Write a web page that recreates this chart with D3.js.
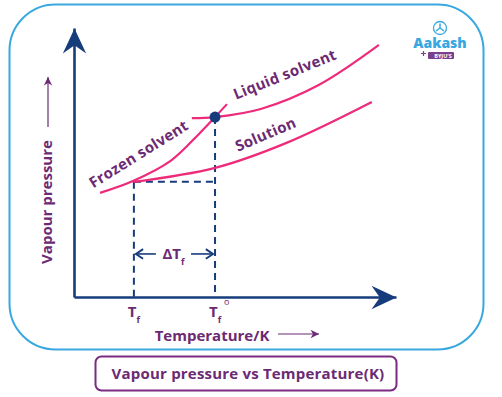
<!DOCTYPE html>
<html>
<head>
<meta charset="utf-8">
<script src="https://cdn.jsdelivr.net/npm/d3@7"></script>
<style>
  body { margin: 0; background: #fff; }
  svg text { font-family: "Open Sans", sans-serif; font-weight: 700; }
</style>
</head>
<body>
<div class="chart"></div>
<script>
// freezing points (temperature units, 0-100)
var Tf = 18.6, Tf0 = 43.8;
// vapour pressure level at freezing point of solution / solvent
var pTf = 42.8, pTf0 = 66.9;

// curves: [temperature, vapour pressure]
var frozenSolvent = [[8.1, 38.7], [18.3, 43.1], [30.0, 50.6], [39.1, 61.0], [43.8, 66.9], [47.5, 71.7]];
var liquidSolvent = [[36.6, 66.5], [43.8, 66.9], [58.0, 69.9], [76.0, 78.8], [94.7, 93.7]];
var solution = [[18.6, 42.8], [43.8, 48.0], [66.0, 57.3], [92.5, 72.5]];

var curveLabels = [
  { text: "Frozen solvent", t: 6.0, p: 40.3, angle: -32 },
  { text: "Liquid solvent", t: 50.3, p: 73.3, angle: -22 },
  { text: "Solution", t: 50.9, p: 54, angle: -23 }
];

var W = 502, H = 397;
var navy = "#173c7c", pink = "#ee2a7b", purple = "#6b2a73", blue = "#3aa8e0";

var svg = d3.select(".chart").append("svg")
  .attr("width", W).attr("height", H);

var defs = svg.append("defs");
defs.append("marker").attr("id", "axisHead")
  .attr("markerUnits", "userSpaceOnUse")
  .attr("markerWidth", 30).attr("markerHeight", 30)
  .attr("viewBox", "-16 -8 18 16").attr("refX", 0).attr("refY", 0)
  .attr("orient", "auto")
  .append("path").attr("d", "M0,0L-15,-7L-10,0L-15,7Z").attr("fill", navy);
defs.append("marker").attr("id", "thinHead")
  .attr("markerUnits", "userSpaceOnUse")
  .attr("markerWidth", 12).attr("markerHeight", 12)
  .attr("viewBox", "-8 -5 10 10").attr("refX", 0).attr("refY", 0)
  .attr("orient", "auto")
  .append("path").attr("d", "M-6,-4L0,0L-6,4").attr("fill", "none")
  .attr("stroke", navy).attr("stroke-width", 1.6);
defs.append("marker").attr("id", "labelHead")
  .attr("markerUnits", "userSpaceOnUse")
  .attr("markerWidth", 12).attr("markerHeight", 12)
  .attr("viewBox", "-8 -5 10 10").attr("refX", 0).attr("refY", 0)
  .attr("orient", "auto")
  .append("path").attr("d", "M-7,-3.5L0,0L-7,3.5L-5,0Z").attr("fill", purple);

// outer frame
svg.append("rect")
  .attr("x", 9.5).attr("y", 4.5).attr("width", 474).attr("height", 345)
  .attr("rx", 46).attr("ry", 46)
  .attr("fill", "none").attr("stroke", blue).attr("stroke-width", 2);

// scales
var x = d3.scaleLinear().domain([0, 100]).range([74, 396]);
var y = d3.scaleLinear().domain([0, 100]).range([297, 28]);

// axes
svg.append("g").attr("transform", "translate(0," + y(0) + ")")
  .call(d3.axisBottom(x).tickValues([]).tickSizeOuter(0))
  .select(".domain").attr("stroke", navy).attr("stroke-width", 2.6)
  .attr("marker-end", "url(#axisHead)");
svg.append("g").attr("transform", "translate(" + x(0) + ",0)")
  .call(d3.axisLeft(y).tickValues([]).tickSizeOuter(0))
  .select(".domain").attr("stroke", navy).attr("stroke-width", 2.6)
  .attr("marker-end", "url(#axisHead)");

// dashed guides
var dash = svg.append("g").attr("stroke", navy).attr("stroke-width", 2)
  .attr("stroke-dasharray", "7,5").attr("fill", "none");
dash.append("line").attr("x1", x(Tf)).attr("x2", x(Tf)).attr("y1", y(pTf)).attr("y2", y(0));
dash.append("line").attr("x1", x(Tf)).attr("x2", x(Tf0)).attr("y1", y(pTf)).attr("y2", y(pTf));
dash.append("line").attr("x1", x(Tf0)).attr("x2", x(Tf0)).attr("y1", y(pTf0)).attr("y2", y(0));

// curves
var line = d3.line().x(function(d){ return x(d[0]); }).y(function(d){ return y(d[1]); })
  .curve(d3.curveCatmullRom.alpha(0.5));
[frozenSolvent, liquidSolvent, solution].forEach(function(c){
  svg.append("path").datum(c).attr("d", line)
    .attr("fill", "none").attr("stroke", pink).attr("stroke-width", 2.2);
});

// intersection point
svg.append("circle").attr("cx", x(Tf0)).attr("cy", y(pTf0)).attr("r", 5.5).attr("fill", navy);

// curve labels
curveLabels.forEach(function(l){
  svg.append("text").text(l.text)
    .attr("transform", "translate(" + x(l.t) + "," + y(l.p) + ") rotate(" + l.angle + ")")
    .attr("font-size", 15).attr("letter-spacing", 0.3).attr("fill", purple);
});

// delta Tf arrows
var pArrow = 16;
svg.append("line").attr("x1", x(Tf) + 22).attr("x2", x(Tf) + 2)
  .attr("y1", y(pArrow)).attr("y2", y(pArrow))
  .attr("stroke", navy).attr("stroke-width", 1.6).attr("marker-end", "url(#thinHead)");
svg.append("line").attr("x1", x(Tf0) - 24).attr("x2", x(Tf0) - 2)
  .attr("y1", y(pArrow)).attr("y2", y(pArrow))
  .attr("stroke", navy).attr("stroke-width", 1.6).attr("marker-end", "url(#thinHead)");
var dt = svg.append("text").attr("x", (x(Tf) + x(Tf0)) / 2 - 1).attr("y", y(pArrow) + 5)
  .attr("text-anchor", "middle").attr("font-size", 15).attr("fill", purple);
dt.append("tspan").text("ΔT");
dt.append("tspan").text("f").attr("font-size", 9).attr("dy", 6);

// tick labels
var t1 = svg.append("text").attr("x", x(Tf)).attr("y", 317)
  .attr("text-anchor", "middle").attr("font-size", 15).attr("fill", purple);
t1.append("tspan").text("T");
t1.append("tspan").text("f").attr("font-size", 9).attr("dy", 6);
var t2 = svg.append("text").attr("x", x(Tf0)).attr("y", 317)
  .attr("text-anchor", "middle").attr("font-size", 15).attr("fill", purple);
t2.append("tspan").text("T");
t2.append("tspan").text("f").attr("font-size", 9).attr("dy", 6);
svg.append("text").text("o").attr("x", x(Tf0) + 9).attr("y", 305)
  .attr("font-size", 9).style("font-weight", 400).attr("fill", purple);

// axis titles
svg.append("text").text("Temperature/K").attr("x", 212).attr("y", 341)
  .attr("text-anchor", "middle").attr("font-size", 15).attr("fill", purple);
svg.append("line").attr("x1", 278).attr("x2", 319).attr("y1", 334).attr("y2", 334)
  .attr("stroke", purple).attr("stroke-width", 1.2).attr("marker-end", "url(#labelHead)");
svg.append("text").text("Vapour pressure")
  .attr("transform", "translate(52,202) rotate(-90)")
  .attr("text-anchor", "middle").attr("font-size", 15).attr("fill", purple);
svg.append("line").attr("x1", 48).attr("x2", 48).attr("y1", 127).attr("y2", 77)
  .attr("stroke", purple).attr("stroke-width", 1.2).attr("marker-end", "url(#labelHead)");

// logo
var logo = svg.append("g");
logo.append("circle").attr("cx", 440).attr("cy", 28).attr("r", 6.5)
  .attr("fill", "none").attr("stroke", blue).attr("stroke-width", 1.3);
logo.append("path").attr("d", "M440,23.5L440,28M440,28L436,31M440,28L444,31")
  .attr("stroke", blue).attr("stroke-width", 1.5).attr("fill", "none");
logo.append("text").text("Aakash").attr("x", 440).attr("y", 48)
  .attr("text-anchor", "middle").attr("font-size", 14).style("font-weight", 800)
  .attr("fill", blue);
logo.append("rect").attr("x", 428).attr("y", 52).attr("width", 26).attr("height", 7)
  .attr("rx", 1).attr("fill", "#7b3f8e");
logo.append("text").text("BYJU'S").attr("x", 443).attr("y", 58)
  .attr("text-anchor", "middle").attr("font-size", 5.5).attr("fill", "#fff");
logo.append("path").attr("d", "M421,53.5H426M423.5,51V56")
  .attr("stroke", "#7b3f8e").attr("stroke-width", 1.2);

// caption box
svg.append("rect").attr("x", 95.5).attr("y", 356.5).attr("width", 301).attr("height", 34)
  .attr("rx", 6).attr("fill", "none").attr("stroke", "#7b2b80").attr("stroke-width", 2);
svg.append("text").text("Vapour pressure vs Temperature(K)")
  .attr("x", 248).attr("y", 379).attr("text-anchor", "middle")
  .attr("font-size", 15).attr("letter-spacing", 0.2).attr("fill", purple);
</script>
</body>
</html>
